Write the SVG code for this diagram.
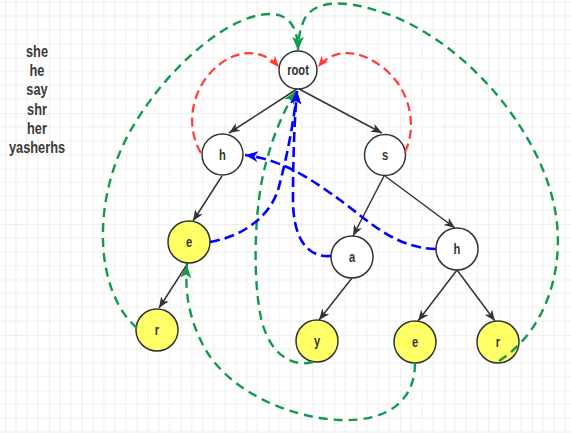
<svg xmlns="http://www.w3.org/2000/svg" width="571" height="433" viewBox="0 0 571 433">
<style>
.node circle{stroke:#333;stroke-width:1.5}
.plain{fill:#fff}
.leaf{fill:#ffff66}
.lbl{font-family:"Liberation Sans",Arial,sans-serif;font-size:14px;font-weight:bold;fill:#333;text-anchor:middle}
.word{font-family:"Liberation Sans",Arial,sans-serif;font-size:16px;font-weight:bold;fill:#3a3a3a;text-anchor:middle}
.tree{fill:none;stroke:#333;stroke-width:1.5;marker-end:url(#aDark)}
.red{fill:none;stroke:#ff3b3b;stroke-width:2.2;stroke-dasharray:9 5;marker-end:url(#aRed)}
.green{fill:none;stroke:#129a4c;stroke-width:2.4;stroke-dasharray:9 6}
.green.arr{marker-end:url(#aGreen)}
.blue{fill:none;stroke:#0000ff;stroke-width:2.6;stroke-dasharray:10 5;marker-end:url(#aBlue)}
</style>
<defs>
<pattern id="grid" patternUnits="userSpaceOnUse" x="5" y="2" width="43.92" height="55.5">
<path d="M10.98,0V55.5M21.96,0V55.5M32.94,0V55.5M0,13.875H43.92M0,27.75H43.92M0,41.625H43.92" stroke="#eeeeee" stroke-width="1" fill="none"/>
<path d="M0,0V55.5M0,0H43.92" stroke="#e2e2e2" stroke-width="1.2" fill="none"/>
</pattern>
<marker id="aDark" markerUnits="userSpaceOnUse" markerWidth="12" markerHeight="10" viewBox="0 0 12 10" refX="11" refY="5" orient="auto"><path d="M0,0.5L11,5L0,9.5L3,5Z" fill="#333"/></marker>
<marker id="aRed" markerUnits="userSpaceOnUse" markerWidth="12" markerHeight="10" viewBox="0 0 12 10" refX="11" refY="5" orient="auto"><path d="M0,0.5L11,5L0,9.5L3,5Z" fill="#ff3b3b"/></marker>
<marker id="aGreen" markerUnits="userSpaceOnUse" markerWidth="14" markerHeight="12" viewBox="0 0 14 12" refX="13" refY="6" orient="auto"><path d="M0,0.5L13,6L0,11.5L3.5,6Z" fill="#129a4c"/></marker>
<marker id="aBlue" markerUnits="userSpaceOnUse" markerWidth="14" markerHeight="12" viewBox="0 0 14 12" refX="13" refY="6" orient="auto"><path d="M0,0.5L13,6L0,11.5L3.5,6Z" fill="#0000ff"/></marker>
</defs>
<rect width="571" height="433" fill="#fff"/>
<rect width="571" height="433" fill="url(#grid)"/>

<g id="words" transform="translate(37,0) scale(0.8,1)">
<text class="word" x="0" y="57">she</text>
<text class="word" x="0" y="76.2">he</text>
<text class="word" x="0" y="95.4">say</text>
<text class="word" x="0" y="114.6">shr</text>
<text class="word" x="0" y="133.8">her</text>
<text class="word" x="0" y="153">yasherhs</text>
</g>

<g id="n-root" class="node"><circle class="plain" cx="298" cy="70" r="19"/><text class="lbl" transform="translate(298,75) scale(0.8,1)">root</text></g>
<g id="n-h1" class="node"><circle class="plain" cx="222.5" cy="154.5" r="20.5"/><text class="lbl" transform="translate(222.5,159.5) scale(0.8,1)">h</text></g>
<g id="n-s" class="node"><circle class="plain" cx="385" cy="155" r="20.5"/><text class="lbl" transform="translate(385,160) scale(0.8,1)">s</text></g>
<g id="n-e1" class="node"><circle class="leaf" cx="189" cy="242" r="21"/><text class="lbl" transform="translate(189,247) scale(0.8,1)">e</text></g>
<g id="n-r1" class="node"><circle class="leaf" cx="157" cy="330" r="21"/><text class="lbl" transform="translate(157,335) scale(0.8,1)">r</text></g>
<g id="n-a" class="node"><circle class="plain" cx="352" cy="257" r="21"/><text class="lbl" transform="translate(352,262) scale(0.8,1)">a</text></g>
<g id="n-h2" class="node"><circle class="plain" cx="457" cy="249" r="21"/><text class="lbl" transform="translate(457,254) scale(0.8,1)">h</text></g>
<g id="n-y" class="node"><circle class="leaf" cx="317" cy="341" r="21"/><text class="lbl" transform="translate(317,346) scale(0.8,1)">y</text></g>
<g id="n-e2" class="node"><circle class="leaf" cx="415" cy="342" r="21"/><text class="lbl" transform="translate(415,347) scale(0.8,1)">e</text></g>
<g id="n-r2" class="node"><circle class="leaf" cx="498" cy="342" r="21"/><text class="lbl" transform="translate(498,347) scale(0.8,1)">r</text></g>

<g id="connectors">
<path class="tree" d="M297,89L229,133"/>
<path class="tree" d="M299,89L382,133"/>
<path class="tree" d="M222,176L193,221"/>
<path class="tree" d="M188,263L159,308"/>
<path class="tree" d="M384,176L353,236"/>
<path class="tree" d="M385,176L455,228"/>
<path class="tree" d="M352,278L319,320"/>
<path class="tree" d="M457,270L418,321"/>
<path class="tree" d="M457,270L495,321"/>

<path class="red" d="M201,153C184,125 192,85 220,64C238,50 262,48 279,67"/>
<path class="red" d="M405,152C418,125 410,85 378,64C358,50 334,48 318,67"/>

<path class="green arr" d="M137,328C95,292 90,200 132,128C172,60 235,12 272,14C292,15 298,32 298,50"/>
<path class="green arr" d="M499,361C547,330 567,265 554,205C538,130 470,48 395,17C358,2 318,-4 305,18C300,28 298,40 298,50"/>
<path class="green arr" d="M313,362C290,368 270,352 262,322C252,282 254,205 266,163C274,133 284,110 296,91"/>
<path class="green arr" d="M415,363C415,405 382,422 340,420C290,418 232,392 207,352C192,327 184,298 187,265"/>

<path class="blue" d="M210,242C245,236 270,215 278,190C287,158 294,120 297,91"/>
<path class="blue" d="M331,256C305,258 293,235 293,200C293,150 295,112 297,91"/>
<path class="blue" d="M436,249C395,248 370,222 340,200C315,182 285,160 245,155"/>
</g>
</svg>
